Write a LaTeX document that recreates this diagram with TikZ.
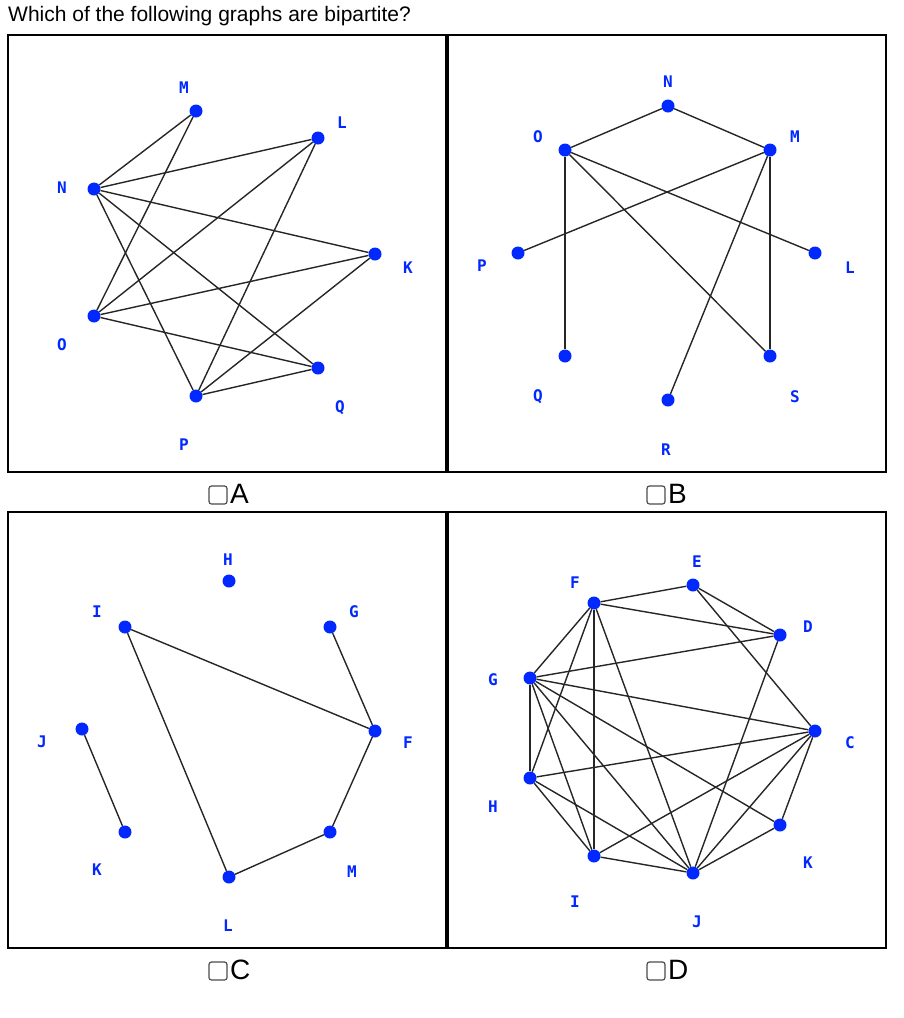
\documentclass[tikz,border=0pt]{standalone}
\usepackage{fontspec}
\setmainfont{Liberation Sans}
\newfontfamily\lblfont{DejaVu Sans Mono}
\definecolor{dotblue}{RGB}{0,40,255}
\begin{document}
\begin{tikzpicture}[x=1pt,y=-1pt,
  v/.style={circle,fill=dotblue,inner sep=0pt,minimum size=13pt},
  lb/.style={text=dotblue,font=\lblfont\bfseries\fontsize{16}{16}\selectfont,inner sep=0pt},
  ed/.style={line width=1.4pt,black!85},
  panel/.style={draw=black,line width=1.8pt},
  chk/.style={draw=black!70,line width=1.2pt,rounded corners=2.5pt,minimum size=18pt,inner sep=0pt},
  opt/.style={font=\fontsize{28}{28}\selectfont,inner sep=0pt}]
\useasboundingbox (0,0) rectangle (904,1018);
\node[anchor=west,font=\fontsize{21}{21}\selectfont,inner sep=0pt] (title) at (8,16) {Which of the following graphs are bipartite?};
\draw[panel] (8,35) rectangle (446,472);
\draw[panel] (448,35) rectangle (886,472);
\draw[panel] (8,512) rectangle (446,948);
\draw[panel] (448,512) rectangle (886,948);
% checkboxes
\node[chk] (cA) at (218,495) {}; \node[opt,anchor=west] (tA) at (230,494) {A};
\node[chk] (cB) at (656,495) {}; \node[opt,anchor=west] (tB) at (668,494) {B};
\node[chk] (cC) at (218,971) {}; \node[opt,anchor=west] (tC) at (230,970) {C};
\node[chk] (cD) at (656,971) {}; \node[opt,anchor=west] (tD) at (668,970) {D};
% Graph A
\node[v] (aM) at (196,111) {}; \node[v] (aL) at (318,138) {};
\node[v] (aN) at (94,189) {};  \node[v] (aK) at (375,254) {};
\node[v] (aO) at (94,316) {};  \node[v] (aQ) at (318,368) {};
\node[v] (aP) at (196,396) {};
\node[lb] (laM) at (184,88) {M}; \node[lb] (laL) at (342,123) {L};
\node[lb] (laN) at (62,188) {N}; \node[lb] (laK) at (408,268) {K};
\node[lb] (laO) at (62,345) {O}; \node[lb] (laQ) at (340,408) {Q};
\node[lb] (laP) at (184,445) {P};
\foreach \a/\b in {aN/aM,aN/aL,aN/aK,aN/aQ,aN/aP,aM/aO,aL/aO,aL/aP,aO/aK,aO/aQ,aK/aP,aP/aQ}
  \draw[ed] (\a) -- (\b);
% Graph B
\node[v] (bN) at (668,106) {}; \node[v] (bO) at (565,150) {};
\node[v] (bM) at (770,150) {}; \node[v] (bP) at (518,253) {};
\node[v] (bL) at (815,253) {}; \node[v] (bQ) at (565,356) {};
\node[v] (bS) at (770,356) {}; \node[v] (bR) at (668,400) {};
\node[lb] (lbN) at (668,82) {N}; \node[lb] (lbO) at (538,137) {O};
\node[lb] (lbM) at (795,137) {M}; \node[lb] (lbP) at (482,266) {P};
\node[lb] (lbL) at (850,268) {L}; \node[lb] (lbQ) at (538,397) {Q};
\node[lb] (lbS) at (795,397) {S}; \node[lb] (lbR) at (666,450) {R};
\foreach \a/\b in {bO/bN,bN/bM,bO/bL,bO/bS,bO/bQ,bM/bP,bM/bS,bM/bR}
  \draw[ed] (\a) -- (\b);
% Graph C
\node[v] (cH) at (229,581) {}; \node[v] (cG) at (330,627) {};
\node[v] (cI) at (125,627) {}; \node[v] (cF) at (375,731) {};
\node[v] (cJ) at (82,729) {};  \node[v] (cM) at (330,832) {};
\node[v] (cK) at (125,832) {}; \node[v] (cL) at (229,877) {};
\node[lb] (lcH) at (228,560) {H}; \node[lb] (lcG) at (354,612) {G};
\node[lb] (lcI) at (97,612) {I};  \node[lb] (lcF) at (408,743) {F};
\node[lb] (lcJ) at (42,742) {J};  \node[lb] (lcM) at (352,872) {M};
\node[lb] (lcK) at (97,870) {K};  \node[lb] (lcL) at (228,926) {L};
\foreach \a/\b in {cI/cF,cI/cL,cG/cF,cF/cM,cM/cL,cJ/cK}
  \draw[ed] (\a) -- (\b);
% Graph D
\node[v] (dE) at (693,585) {}; \node[v] (dF) at (594,603) {};
\node[v] (dD) at (780,635) {}; \node[v] (dG) at (530,678) {};
\node[v] (dC) at (815,731) {}; \node[v] (dH) at (530,778) {};
\node[v] (dK) at (780,825) {}; \node[v] (dI) at (594,856) {};
\node[v] (dJ) at (693,873) {};
\node[lb] (ldE) at (697,562) {E}; \node[lb] (ldF) at (575,583) {F};
\node[lb] (ldD) at (808,627) {D}; \node[lb] (ldG) at (493,680) {G};
\node[lb] (ldC) at (850,743) {C}; \node[lb] (ldH) at (493,807) {H};
\node[lb] (ldK) at (808,863) {K}; \node[lb] (ldI) at (575,902) {I};
\node[lb] (ldJ) at (697,922) {J};
\foreach \a/\b in {dF/dE,dE/dD,dE/dC,dF/dD,dF/dG,dF/dH,dF/dI,dF/dJ,dG/dD,dG/dC,dG/dH,dG/dI,dG/dJ,dG/dK,dH/dC,dH/dI,dH/dJ,dD/dJ,dC/dI,dC/dJ,dC/dK,dK/dJ,dI/dJ}
  \draw[ed] (\a) -- (\b);
\end{tikzpicture}
\end{document}
